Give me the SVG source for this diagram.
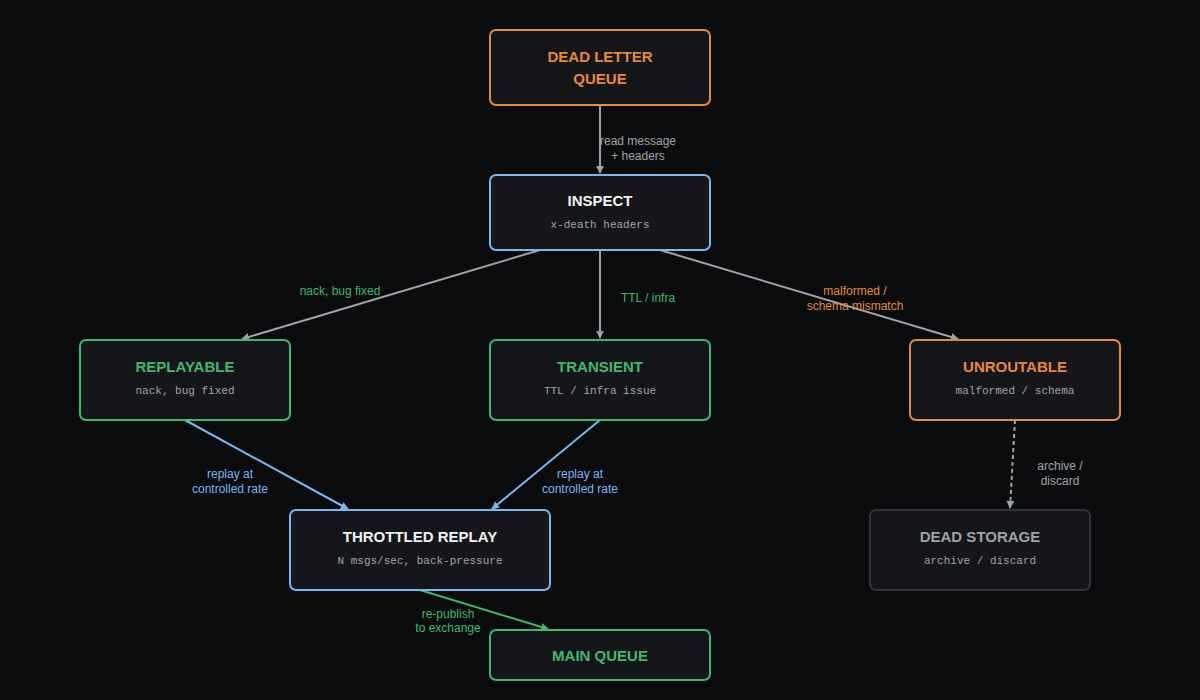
<svg xmlns="http://www.w3.org/2000/svg" width="1200" height="700" viewBox="0 0 1200 700">
<style>
.n{fill:#14161a;stroke-width:2}
.t{font-family:"Liberation Sans",Arial,sans-serif;font-weight:bold;font-size:15px;text-anchor:middle}
.s{font-family:"Liberation Mono","Courier New",monospace;font-size:11px;fill:#a0a4aa;text-anchor:middle}
.l{font-family:"Liberation Sans",Arial,sans-serif;font-size:12px;text-anchor:middle}
.e{fill:none;stroke-width:2}
</style>
<defs>
<marker id="ag" viewBox="0 0 10 10" refX="9" refY="5" markerWidth="8" markerHeight="8" orient="auto-start-reverse" markerUnits="userSpaceOnUse"><path d="M0,0L10,5L0,10z" fill="#9ea3a8"/></marker>
<marker id="ab" viewBox="0 0 10 10" refX="9" refY="5" markerWidth="8" markerHeight="8" orient="auto" markerUnits="userSpaceOnUse"><path d="M0,0L10,5L0,10z" fill="#79b8f0"/></marker>
<marker id="agr" viewBox="0 0 10 10" refX="9" refY="5" markerWidth="8" markerHeight="8" orient="auto" markerUnits="userSpaceOnUse"><path d="M0,0L10,5L0,10z" fill="#3fb96a"/></marker>
</defs>
<rect width="1200" height="700" fill="#090b0d"/>
<g id="edges">
<path class="e" d="M600,105V173" stroke="#9ea3a8" marker-end="url(#ag)" style="marker-end:url(#ag)"/>
<path class="e" d="M540,250L242,339" stroke="#9ea3a8" marker-end="url(#ag)"/>
<path class="e" d="M600,250V338" stroke="#9ea3a8" marker-end="url(#ag)"/>
<path class="e" d="M660,250L958,339" stroke="#9ea3a8" marker-end="url(#ag)"/>
<path class="e" d="M185,420L348,509" stroke="#79b8f0" marker-end="url(#ab)"/>
<path class="e" d="M600,420L492,509" stroke="#79b8f0" marker-end="url(#ab)"/>
<path class="e" d="M1015,420L1010,508" stroke="#9ea3a8" stroke-dasharray="4,3" marker-end="url(#ag)"/>
<path class="e" d="M420,590L548,629" stroke="#3fb96a" marker-end="url(#agr)"/>
<text class="l" fill="#a0a4aa" x="638" y="145">read message</text>
<text class="l" fill="#a0a4aa" x="638" y="160">+ headers</text>
<text class="l" fill="#3fb96a" x="340" y="295">nack, bug fixed</text>
<text class="l" fill="#3fb96a" x="648" y="302">TTL / infra</text>
<text class="l" fill="#e8893a" x="855" y="295">malformed /</text>
<text class="l" fill="#e8893a" x="855" y="310">schema mismatch</text>
<text class="l" fill="#79b8f0" x="230" y="478">replay at</text>
<text class="l" fill="#79b8f0" x="230" y="493">controlled rate</text>
<text class="l" fill="#79b8f0" x="580" y="478">replay at</text>
<text class="l" fill="#79b8f0" x="580" y="493">controlled rate</text>
<text class="l" fill="#a0a4aa" x="1060" y="470">archive /</text>
<text class="l" fill="#a0a4aa" x="1060" y="485">discard</text>
<text class="l" fill="#3fb96a" x="448" y="618">re-publish</text>
<text class="l" fill="#3fb96a" x="448" y="632">to exchange</text>
</g>
<g id="dlq"><rect class="n" x="490" y="30" width="220" height="75" rx="6" stroke="#e8893a"/><text class="t" fill="#e8893a" x="600" y="62">DEAD LETTER</text><text class="t" fill="#e8893a" x="600" y="84">QUEUE</text></g>
<g id="inspect"><rect class="n" x="490" y="175" width="220" height="75" rx="6" stroke="#79b8f0"/><text class="t" fill="#f0f2f4" x="600" y="206">INSPECT</text><text class="s" x="600" y="228">x-death headers</text></g>
<g id="replayable"><rect class="n" x="80" y="340" width="210" height="80" rx="6" stroke="#3fb96a"/><text class="t" fill="#3fb96a" x="185" y="372">REPLAYABLE</text><text class="s" x="185" y="394">nack, bug fixed</text></g>
<g id="transient"><rect class="n" x="490" y="340" width="220" height="80" rx="6" stroke="#3fb96a"/><text class="t" fill="#3fb96a" x="600" y="372">TRANSIENT</text><text class="s" x="600" y="394">TTL / infra issue</text></g>
<g id="unroutable"><rect class="n" x="910" y="340" width="210" height="80" rx="6" stroke="#e8893a"/><text class="t" fill="#e8893a" x="1015" y="372">UNROUTABLE</text><text class="s" x="1015" y="394">malformed / schema</text></g>
<g id="throttled"><rect class="n" x="290" y="510" width="260" height="80" rx="6" stroke="#79b8f0"/><text class="t" fill="#f0f2f4" x="420" y="542">THROTTLED REPLAY</text><text class="s" x="420" y="564">N msgs/sec, back-pressure</text></g>
<g id="deadstorage"><rect class="n" x="870" y="510" width="220" height="80" rx="6" stroke="#30343a"/><text class="t" fill="#9ea3a8" x="980" y="542">DEAD STORAGE</text><text class="s" x="980" y="564">archive / discard</text></g>
<g id="mainqueue"><rect class="n" x="490" y="630" width="220" height="50" rx="6" stroke="#3fb96a"/><text class="t" fill="#3fb96a" x="600" y="661">MAIN QUEUE</text></g>
</svg>
